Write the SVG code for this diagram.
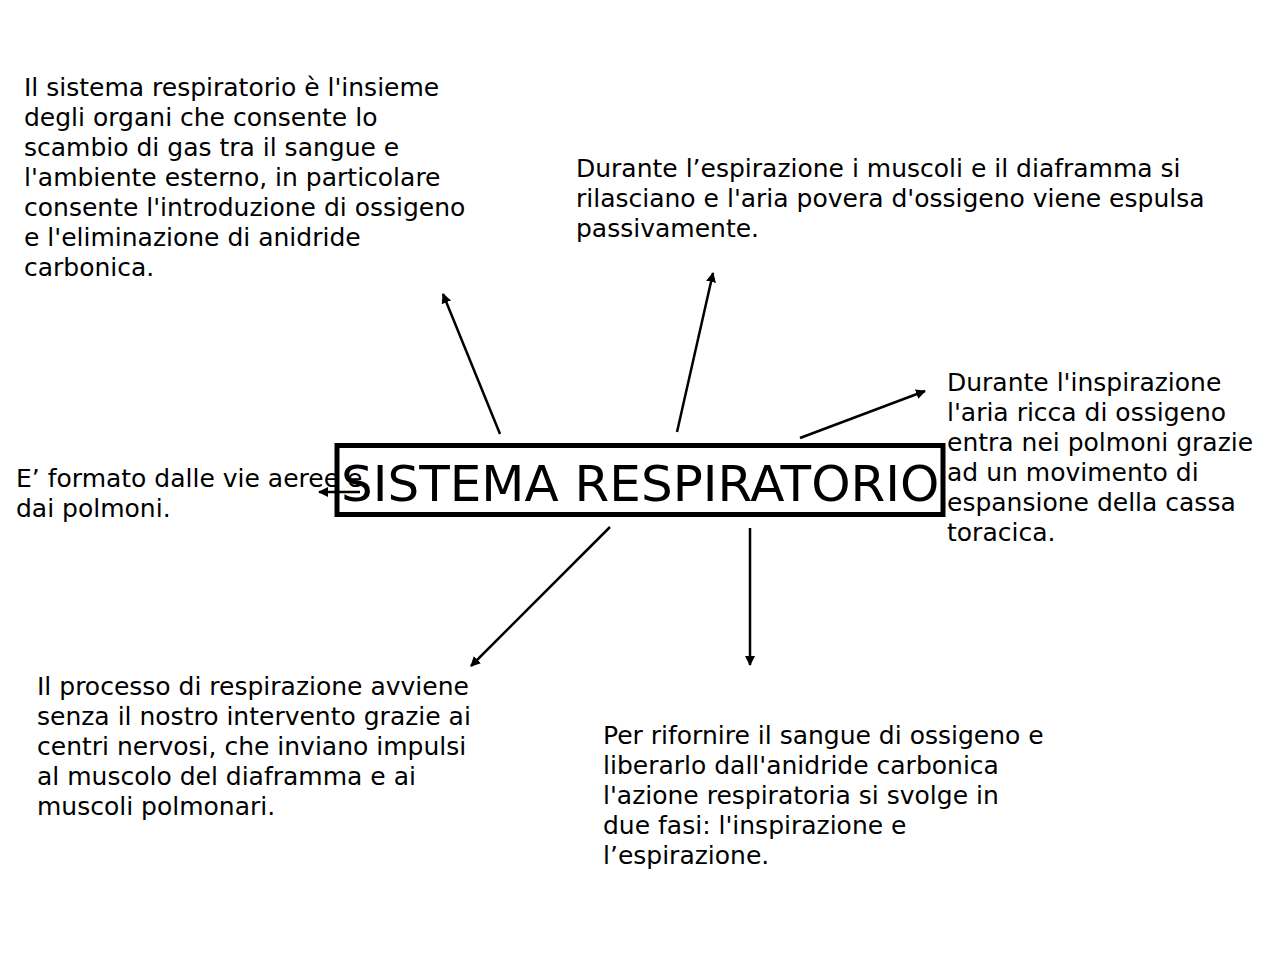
<svg xmlns="http://www.w3.org/2000/svg" width="1280" height="960" viewBox="0 0 1280 960">
<style>
.t{font-family:"DejaVu Sans","Liberation Sans",sans-serif;font-size:25px;fill:#000}
.title{font-family:"DejaVu Sans","Liberation Sans",sans-serif;font-size:50px;fill:#000}
.c{stroke:#000;stroke-width:2.5;fill:none;marker-end:url(#ah)}
</style>
<defs>
<marker id="ah" viewBox="0 0 10 10" refX="9" refY="5" markerWidth="4" markerHeight="4" orient="auto" markerUnits="strokeWidth">
<path d="M0,0 L10,5 L0,10 Z" fill="#000"/>
</marker>
</defs>
<rect width="1280" height="960" fill="#fff"/>
<g id="center">
<rect x="337" y="445.5" width="606" height="69" fill="none" stroke="#000" stroke-width="5"/>
<text class="title" x="341" y="501">SISTEMA RESPIRATORIO</text>
</g>
<g id="n-topleft">
<text class="t" x="24" y="96">Il sistema respiratorio è l'insieme</text>
<text class="t" x="24" y="126">degli organi che consente lo</text>
<text class="t" x="24" y="156">scambio di gas tra il sangue e</text>
<text class="t" x="24" y="186">l'ambiente esterno, in particolare</text>
<text class="t" x="24" y="216">consente l'introduzione di ossigeno</text>
<text class="t" x="24" y="246">e l'eliminazione di anidride</text>
<text class="t" x="24" y="276">carbonica.</text>
</g>
<g id="n-topmid">
<text class="t" x="576" y="177">Durante l’espirazione i muscoli e il diaframma si</text>
<text class="t" x="576" y="207">rilasciano e l'aria povera d'ossigeno viene espulsa</text>
<text class="t" x="576" y="237">passivamente.</text>
</g>
<g id="n-right">
<text class="t" x="947" y="391">Durante l'inspirazione</text>
<text class="t" x="947" y="421">l'aria ricca di ossigeno</text>
<text class="t" x="947" y="451">entra nei polmoni grazie</text>
<text class="t" x="947" y="481">ad un movimento di</text>
<text class="t" x="947" y="511">espansione della cassa</text>
<text class="t" x="947" y="541">toracica.</text>
</g>
<g id="n-left">
<text class="t" x="16" y="487">E’ formato dalle vie aeree e</text>
<text class="t" x="16" y="517">dai polmoni.</text>
</g>
<g id="n-bottomleft">
<text class="t" x="37" y="695">Il processo di respirazione avviene</text>
<text class="t" x="37" y="725">senza il nostro intervento grazie ai</text>
<text class="t" x="37" y="755">centri nervosi, che inviano impulsi</text>
<text class="t" x="37" y="785">al muscolo del diaframma e ai</text>
<text class="t" x="37" y="815">muscoli polmonari.</text>
</g>
<g id="n-bottomright">
<text class="t" x="603" y="744">Per rifornire il sangue di ossigeno e</text>
<text class="t" x="603" y="774">liberarlo dall'anidride carbonica</text>
<text class="t" x="603" y="804">l'azione respiratoria si svolge in</text>
<text class="t" x="603" y="834">due fasi: l'inspirazione e</text>
<text class="t" x="603" y="864">l’espirazione.</text>
</g>
<g id="connectors">
<line class="c" x1="500" y1="434" x2="443" y2="294"/>
<line class="c" x1="677" y1="432" x2="713" y2="273"/>
<line class="c" x1="800" y1="438" x2="925" y2="391"/>
<line class="c" x1="360" y1="492" x2="319" y2="492"/>
<line class="c" x1="610" y1="527" x2="471" y2="666"/>
<line class="c" x1="750" y1="528" x2="750" y2="665"/>
</g>
</svg>
